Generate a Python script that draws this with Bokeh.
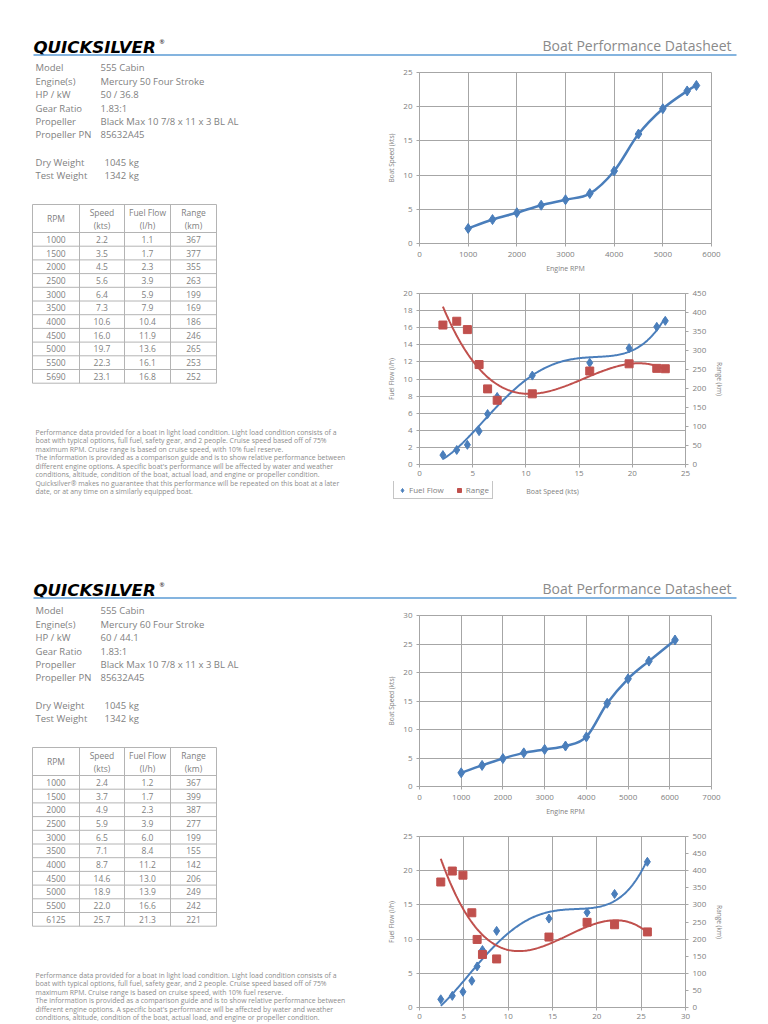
import numpy as np
from bokeh.plotting import figure
from bokeh.models import Range1d, LinearAxis, Legend, LegendItem, FixedTicker, Label
from bokeh.layouts import column, row
from bokeh.embed import file_html
from bokeh.resources import INLINE
from bokeh.core.properties import value

# ---------------- data ----------------
LOGO_TEXT = "QUICKSILVER"
TITLE = "Boat Performance Datasheet"

info_labels = ["Model", "Engine(s)", "HP / kW", "Gear Ratio", "Propeller", "Propeller PN"]
info_values_1 = ["555 Cabin", "Mercury 50 Four Stroke", "50 / 36.8", "1.83:1",
                 "Black Max  10 7/8 x 11 x 3 BL AL", "85632A45"]
info_values_2 = ["555 Cabin", "Mercury 60 Four Stroke", "60 / 44.1", "1.83:1",
                 "Black Max  10 7/8 x 11 x 3 BL AL", "85632A45"]
weight_labels = ["Dry Weight", "Test Weight"]
weight_values = ["1045 kg", "1342 kg"]

table_header_top = ["Speed", "Fuel Flow", "Range"]
table_header_bottom = ["(kts)", "(l/h)", "(km)"]

series_names = ["Fuel Flow", "Range"]
speed_axis_label = "Boat Speed  (kts)"

rpm_1 = [1000, 1500, 2000, 2500, 3000, 3500, 4000, 4500, 5000, 5500, 5690]
speed_1 = [2.2, 3.5, 4.5, 5.6, 6.4, 7.3, 10.6, 16.0, 19.7, 22.3, 23.1]
fuel_1 = [1.1, 1.7, 2.3, 3.9, 5.9, 7.9, 10.4, 11.9, 13.6, 16.1, 16.8]
range_1 = [367, 377, 355, 263, 199, 169, 186, 246, 265, 253, 252]

rpm_2 = [1000, 1500, 2000, 2500, 3000, 3500, 4000, 4500, 5000, 5500, 6125]
speed_2 = [2.4, 3.7, 4.9, 5.9, 6.5, 7.1, 8.7, 14.6, 18.9, 22.0, 25.7]
fuel_2 = [1.2, 1.7, 2.3, 3.9, 6.0, 8.4, 11.2, 13.0, 13.9, 16.6, 21.3]
range_2 = [367, 399, 387, 277, 199, 155, 142, 206, 249, 242, 221]

para_lines = [
    "Performance data provided for a boat in light load condition.  Light load condition consists of a",
    "boat with typical options, full fuel, safety gear, and 2 people.  Cruise speed based off of 75%",
    "maximum RPM.  Cruise range is based on cruise speed, with 10% fuel reserve.",
    "The information is provided as a comparison guide and is to show relative performance between",
    "different engine options.  A specific boat's performance will be affected by water and weather",
    "conditions, altitude, condition of the boat, actual load, and engine or propeller condition.",
    "Quicksilver\u00ae makes no guarantee that this performance will be repeated on this  boat at a later",
    "date, or at any time on a similarly equipped boat.",
]

# ---------------- style ----------------
GREY_TXT = "#7f7f7f"
PARA_TXT = "#8c8c8c"
TICK_TXT = "#808080"
GRID = "#a6a6a6"
TABLE_LINE = "#b4b4b4"
BLUE = "#4a7ebb"
RED = "#c0504d"
FONT = "Open Sans"


def solo(p):
    # keep each plot's own frame position (no frame alignment between stacked plots)
    try:
        p.frame_align = False
    except Exception:
        pass
    return row(p)


def blank(width, height, x0, x1, y_top, y_bottom):
    p = figure(width=width, height=height, x_range=Range1d(x0, x1),
               y_range=Range1d(y_bottom, y_top), output_backend="svg",
               toolbar_location=None, tools="", min_border=0,
               x_axis_location=None, y_axis_location=None)
    p.grid.visible = False
    p.outline_line_color = None
    return p


def texts(p, xs, ys, strs, size, color, align="left", style="normal", font=FONT):
    p.text(x=xs, y=ys, text=strs, text_font=value(font),
           text_font_size=value(f"{size}px"), text_color=color,
           text_align=align, text_baseline="middle", text_font_style=style)


def make_header(top, height):
    p = blank(760, height, 0, 760, top, top + height)
    base = top + height - 62
    texts(p, [33], [46.5 + base], [LOGO_TEXT], 16.6, "#000000", style="bold italic",
          font="DejaVu Sans")
    texts(p, [159], [41.5 + base], ["\u00ae"], 6, "#000000")
    p.line(x=[33, 736], y=[54.5 + base, 54.5 + base], line_color="#5b9bd5", line_width=1.5)
    texts(p, [731], [45 + base], [TITLE], 14, "#8a8a8a", align="right")
    return p


def make_left(off, height, info_vals, rpm, spd, fuel, rng):
    top = 62 + off
    p = blank(380, height, 0, 380, top, top + height)
    ys = [67.3 + 13.4 * i + off for i in range(len(info_labels))]
    texts(p, [35] * len(ys), ys, info_labels, 9.5, GREY_TXT)
    texts(p, [100] * len(ys), ys, info_vals, 9.5, GREY_TXT)
    wy = [161.7 + off, 175.0 + off]
    texts(p, [35, 35], wy, weight_labels, 9.5, GREY_TXT)
    texts(p, [104, 104], wy, weight_values, 9.5, GREY_TXT)

    # table
    xe = [32, 79, 124, 170, 216]
    t0 = 204 + off
    h0 = 232 + off
    rh = 13.7
    n = len(rpm)
    yb = [h0 + rh * i for i in range(n + 1)]
    hy = [t0] + yb
    p.segment(x0=[xe[0]] * len(hy), x1=[xe[-1]] * len(hy), y0=hy, y1=hy,
              line_color=TABLE_LINE, line_width=1)
    p.segment(x0=xe, x1=xe, y0=[t0] * len(xe), y1=[yb[-1]] * len(xe),
              line_color=TABLE_LINE, line_width=1)
    cx = [(xe[i] + xe[i + 1]) / 2 for i in range(4)]
    texts(p, [cx[0]], [(t0 + h0) / 2], ["RPM"], 8.5, GREY_TXT, align="center")
    texts(p, cx[1:], [t0 + 8.3] * 3, table_header_top, 8.5, GREY_TXT, align="center")
    texts(p, cx[1:], [t0 + 21] * 3, table_header_bottom, 8.5, GREY_TXT, align="center")
    ry = [h0 + rh * (i + 0.5) for i in range(n)]
    cols = [[str(v) for v in rpm], [f"{v:.1f}" for v in spd],
            [f"{v:.1f}" for v in fuel], [str(v) for v in rng]]
    for j in range(4):
        texts(p, [cx[j]] * n, ry, cols[j], 8.5, GREY_TXT, align="center")

    # paragraph (only the lines that fit on the page)
    py = [431.5 + 8.5 * i + off for i in range(len(para_lines))]
    keep = [i for i in range(len(py)) if py[i] + 4.5 <= top + height]
    texts(p, [35] * len(keep), [py[i] for i in keep], [para_lines[i] for i in keep],
          6.9, PARA_TXT)
    return p


def style_fig(p):
    p.outline_line_color = GRID
    p.outline_line_width = 1
    p.grid.grid_line_color = GRID
    p.grid.grid_line_width = 1
    for ax in p.axis:
        ax.axis_line_color = GRID
        ax.major_tick_line_color = GRID
        ax.major_tick_out = 3
        ax.major_tick_in = 0
        ax.minor_tick_line_color = None
        ax.major_label_text_font = FONT
        ax.major_label_text_font_size = "8px"
        ax.major_label_text_color = TICK_TXT
        ax.axis_label_text_font = FONT
        ax.axis_label_text_font_style = "normal"
        ax.axis_label_text_color = TICK_TXT
        ax.major_label_standoff = 4
        ax.axis_label_standoff = 4
        ax.axis_label_text_font_size = "6.5px"
    for ax in p.xaxis:
        ax.axis_label_text_font_size = "7px"
        ax.major_label_standoff = 5


def smooth_segments(xs, ys, t=1.0 / 6.0):
    n = len(xs)
    out = {k: [] for k in ["x0", "y0", "x1", "y1", "cx0", "cy0", "cx1", "cy1"]}
    for i in range(n - 1):
        a = i - 1 if i > 0 else i
        d = i + 2 if i + 2 < n else i + 1
        out["x0"].append(xs[i]); out["y0"].append(ys[i])
        out["x1"].append(xs[i + 1]); out["y1"].append(ys[i + 1])
        out["cx0"].append(xs[i] + (xs[i + 1] - xs[a]) * t)
        out["cy0"].append(ys[i] + (ys[i + 1] - ys[a]) * t)
        out["cx1"].append(xs[i + 1] - (xs[d] - xs[i]) * t)
        out["cy1"].append(ys[i + 1] - (ys[d] - ys[i]) * t)
    return out


def make_chart_a(rpm, spd, xmax, ymax, ystep):
    p = figure(width=380, height=216, x_range=Range1d(0, xmax), y_range=Range1d(0, ymax),
               output_backend="svg", toolbar_location=None, tools="",
               min_border_left=39, min_border_right=49, min_border_top=10,
               min_border_bottom=35, x_axis_label="Engine RPM",
               y_axis_label="Boat Speed (kts)")
    p.xaxis.ticker = FixedTicker(ticks=list(range(0, xmax + 1, 1000)))
    p.yaxis.ticker = FixedTicker(ticks=list(range(0, ymax + 1, ystep)))
    style_fig(p)
    s = smooth_segments(rpm, spd)
    p.bezier(x0=s["x0"], y0=s["y0"], x1=s["x1"], y1=s["y1"], cx0=s["cx0"], cy0=s["cy0"],
             cx1=s["cx1"], cy1=s["cy1"], line_color=BLUE, line_width=2.5)
    p.scatter(rpm, spd, marker="diamond", size=10, fill_color=BLUE, line_color=BLUE)
    return p


def make_chart_b(height, spd, fuel, rng, xmax, ymax_l, step_l, ymax_r, step_r, mb_bottom):
    p = figure(width=380, height=height, x_range=Range1d(0, xmax),
               y_range=Range1d(0, ymax_l), output_backend="svg",
               toolbar_location=None, tools="", min_border_left=39,
               min_border_right=75, min_border_top=15, min_border_bottom=mb_bottom,
               y_axis_label="Fuel Flow (l/h)")
    p.extra_y_ranges = {"rng": Range1d(0, ymax_r)}
    rax = LinearAxis(y_range_name="rng", axis_label="Range (km)",
                     ticker=FixedTicker(ticks=list(range(0, ymax_r + 1, step_r))))
    p.add_layout(rax, "right")
    p.xaxis.ticker = FixedTicker(ticks=list(range(0, xmax + 1, 5)))
    p.yaxis[0].ticker = FixedTicker(ticks=list(range(0, ymax_l + 1, step_l)))
    style_fig(p)
    rax.axis_label_standoff = 6
    p.xaxis.major_label_standoff = 3

    xs = np.linspace(min(spd), max(spd), 200)
    cf = np.polyfit(spd, fuel, 4)
    cr = np.polyfit(spd, rng, 3)
    p.line(xs, np.polyval(cf, xs), line_color=BLUE, line_width=2)
    p.line(xs, np.polyval(cr, xs), line_color=RED, line_width=2, y_range_name="rng")
    p.scatter(spd, fuel, marker="diamond", size=9, fill_color=BLUE, line_color=BLUE)
    p.scatter(spd, rng, marker="square", size=8, fill_color=RED, line_color=RED,
              y_range_name="rng")
    return p


def make_legend_strip(height, spd, fuel, rng):
    # strip under the fuel/range chart: x-axis title and the series legend
    p = figure(width=380, height=height, x_range=Range1d(0, 1), y_range=Range1d(0, 1),
               output_backend="svg", toolbar_location=None, tools="", min_border=0,
               x_axis_location=None, y_axis_location=None)
    p.grid.visible = False
    p.outline_line_color = None
    b = p.scatter(spd, fuel, marker="diamond", size=9, fill_color=BLUE, line_color=BLUE,
                  visible=False)
    r = p.scatter(spd, rng, marker="square", size=8, fill_color=RED, line_color=RED,
                  visible=False)
    leg = Legend(items=[LegendItem(label=series_names[0], renderers=[b]),
                        LegendItem(label=series_names[1], renderers=[r])],
                 orientation="horizontal", location=(13, 52),
                 border_line_color="#8c8c8c", border_line_width=1,
                 background_fill_color="white", background_fill_alpha=1,
                 inactive_fill_alpha=0,
                 label_text_font=FONT, label_text_font_size="8px",
                 label_text_color=GREY_TXT, glyph_width=10, glyph_height=10,
                 label_standoff=2, spacing=10, padding=3, margin=0)
    p.add_layout(leg)
    p.add_layout(Label(x=173, y=height - 10, x_units="screen", y_units="screen",
                       text=speed_axis_label, text_align="center",
                       text_baseline="middle", text_font=FONT, text_font_size="7px",
                       text_color=TICK_TXT))
    return p


sec1 = column(
    solo(make_header(0, 62)),
    row(solo(make_left(0, 489, info_values_1, rpm_1, speed_1, fuel_1, range_1)),
        column(solo(make_chart_a(rpm_1, speed_1, 6000, 25, 5)),
               solo(make_chart_b(203, speed_1, fuel_1, range_1, 25, 20, 2, 450, 50, 17)),
               solo(make_legend_strip(70, speed_1, fuel_1, range_1)))))
sec2 = column(
    solo(make_header(551, 54)),
    row(solo(make_left(543, 419, info_values_2, rpm_2, speed_2, fuel_2, range_2)),
        column(solo(make_chart_a(rpm_2, speed_2, 7000, 30, 5)),
               solo(make_chart_b(203, speed_2, fuel_2, range_2, 30, 25, 5, 500, 50, 17)))))
page = column(sec1, sec2)

open("out.html", "w").write(file_html(page, INLINE))
